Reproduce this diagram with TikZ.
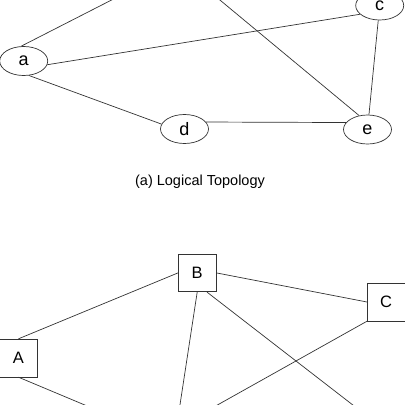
\documentclass[tikz,border=0pt]{standalone}
\usepackage{fontspec}
\setmainfont{Liberation Sans}
\usetikzlibrary{shapes.geometric}

\tikzset{
  vertex/.style={ellipse, draw=black!80, line width=0.7pt, minimum width=48pt,
    minimum height=29pt, inner sep=0pt, font=\fontsize{18}{18}\selectfont},
  site/.style={rectangle, draw=black!80, line width=0.7pt, minimum size=37.7pt,
    inner sep=0pt, font=\fontsize{16.5}{16.5}\selectfont},
  link/.style={draw=black!80, line width=0.7pt}
}

\begin{document}
\begin{tikzpicture}[x=1pt, y=-1pt]
\useasboundingbox (0,0) rectangle (405,405);
\clip (0,0) rectangle (405,405);

% logical topology
\node[vertex] (a) at (23.7,61) {a};
\node[vertex] (c) at (379.7,5.5) {c};
\node[vertex] (d) at (184.5,129) {d};
\node[vertex] (e) at (367.5,129.5) {e};
\coordinate (atop) at (150.7,-20);
\coordinate (etop) at (195.8,-20);
\draw[link] (a.100) -- (atop);
\draw[link] (etop) -- (e.121);
\draw[link] (a.-9) -- (c.204);
\draw[link] (c) -- (e);
\draw[link] (a.-70) -- (d.168);
\draw[link] (d.18) -- (e.162);
\node[font=\fontsize{14.5}{14.5}\selectfont] (caption) at (200,182) {(a) Logical Topology};

% physical topology
\node[site] (A) at (18.5,358) {A};
\node[site] (B) at (197.2,272.9) {B};
\node[site] (C) at (386.2,302) {C};
\coordinate (Adown) at (132.5,425);
\coordinate (Bdown) at (176.9,425);
\coordinate (Bright) at (378.7,425);
\coordinate (Cdown) at (181.7,425);
\draw[link] (A.north) -- (B.west);
\draw[link] (B.east) -- (C.west);
\draw[link] (B.south) -- (Bdown);
\draw[link] (B.-63) -- (Bright);
\draw[link] (C.south west) -- (Cdown);
\draw[link] (A.south) -- (Adown);
\end{tikzpicture}
\end{document}
